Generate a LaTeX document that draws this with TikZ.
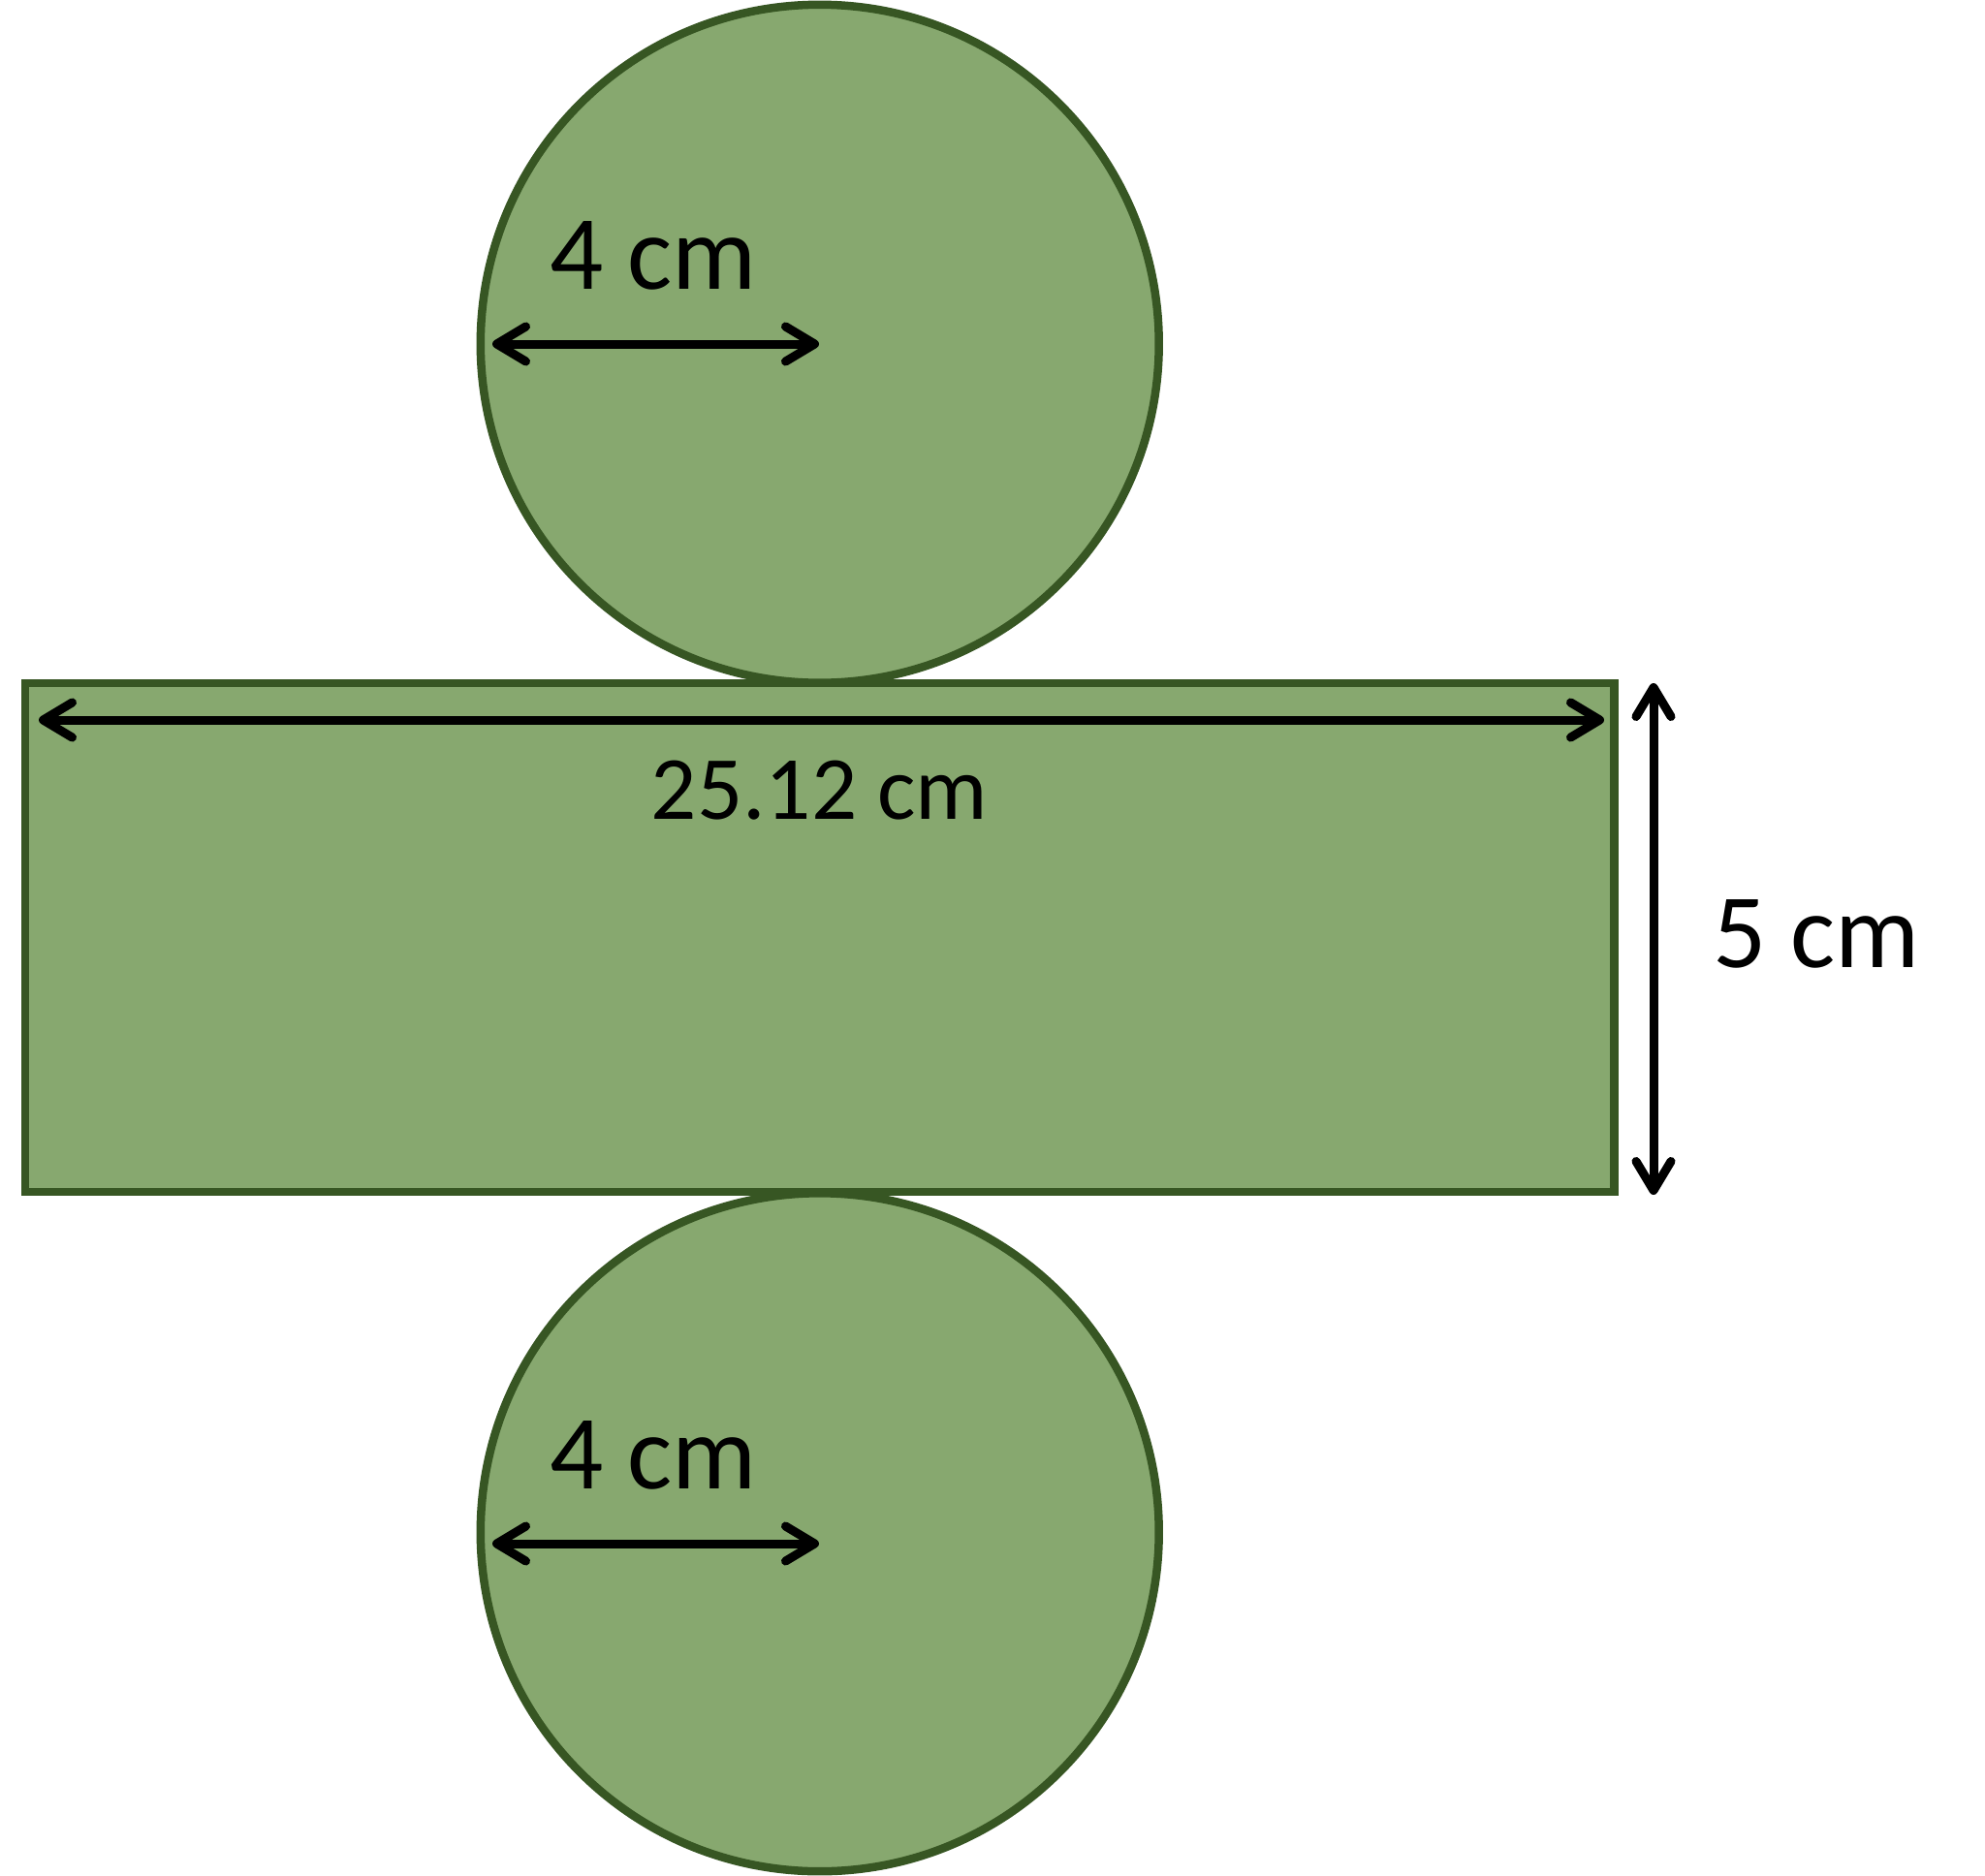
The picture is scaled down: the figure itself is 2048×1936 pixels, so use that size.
\documentclass[tikz,border=0pt]{standalone}
\usepackage{fontspec}
\setmainfont{Carlito}
\usetikzlibrary{arrows.meta}
\definecolor{netfill}{HTML}{87A86F}
\definecolor{netedge}{HTML}{375623}
\tikzset{
  netshape/.style={draw=netedge, fill=netfill, line width=0.085cm, inner sep=0pt, outer sep=0pt},
  disk/.style={netshape, circle, minimum size=6.995cm},
  dimarrow/.style={line width=0.09cm, {Straight Barb[length=0.30cm, width=0.36cm, round]}-{Straight Barb[length=0.30cm, width=0.36cm, round]}},
  biglabel/.style={inner sep=0pt, font=\fontsize{31}{36}\selectfont},
  midlabel/.style={inner sep=0pt, font=\fontsize{26.5}{31}\selectfont}
}
\begin{document}
\begin{tikzpicture}[x=0.01cm, y=-0.01cm]
\useasboundingbox (0,0) rectangle (2048,1936);
% circles and rectangle
\node[disk] (topc) at (845.75,354.75) {};
\node[disk] (botc) at (845.75,1581.25) {};
\node[netshape, rectangle, minimum width=16.385cm, minimum height=5.25cm] (rect) at (845.75,967.5) {};
% top radius
\coordinate (ta) at (508,355);
\coordinate (tb) at (845,355);
\draw[dimarrow] (ta) -- (tb);
\node[biglabel, anchor=base west] (tl) at (567,298) {4 cm};
% bottom radius
\coordinate (ba) at (508,1593);
\coordinate (bb) at (845,1593);
\draw[dimarrow] (ba) -- (bb);
\node[biglabel, anchor=base west] (bl) at (567,1536) {4 cm};
% width
\coordinate (wa) at (40,743);
\coordinate (wb) at (1655,743);
\draw[dimarrow] (wa) -- (wb);
\node[midlabel, anchor=base] (wl) at (845.5,845) {25.12 cm};
% height
\coordinate (ha) at (1706,705);
\coordinate (hb) at (1706,1233);
\draw[dimarrow] (ha) -- (hb);
\node[biglabel, anchor=base west] (hl) at (1767,998) {5 cm};
\end{tikzpicture}
\end{document}
